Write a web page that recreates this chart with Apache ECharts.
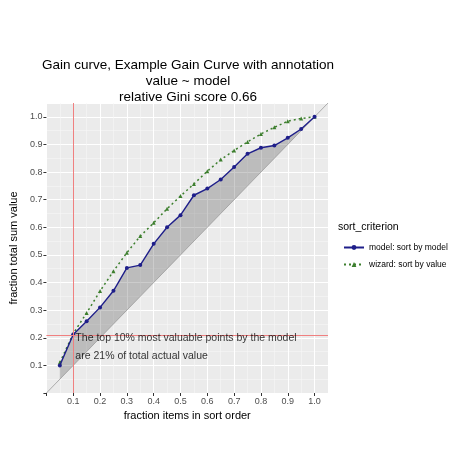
<!DOCTYPE html>
<html><head><meta charset="utf-8">
<script src="https://cdn.jsdelivr.net/npm/echarts@6/dist/echarts.min.js"></script>
<style>html,body{margin:0;padding:0;background:#fff}#c{width:474px;height:474px}</style>
</head><body><div id="c"></div>
<script>
var xs = [0.05,0.1,0.15,0.2,0.25,0.3,0.35,0.4,0.45,0.5,0.55,0.6,0.65,0.7,0.75,0.8,0.85,0.9,0.95,1.0];
var modelVals = [0.10,0.212,0.26,0.31,0.37,0.453,0.463,0.54,0.60,0.644,0.716,0.74,0.773,0.818,0.866,0.888,0.896,0.924,0.956,1.0];
var wizardVals = [0.11,0.215,0.29,0.369,0.441,0.508,0.568,0.616,0.667,0.713,0.757,0.803,0.845,0.878,0.909,0.938,0.962,0.984,0.994,1.0];
var annotX = 0.1, annotY = 0.212;
var F = 'Liberation Sans, Arial, sans-serif';
var chart = echarts.init(document.getElementById('c'));
var navy = '#1f1f8a', green = '#3d7f2e';
function fmt(v){return v>=0.05 ? v.toFixed(1) : '';}
function axis(name,gap){return {
  type:'value', min:0, max:1.05, interval:0.1, name:name, nameLocation:'middle', nameGap:gap,
  axisLine:{show:false}, axisTick:{show:true,length:3,lineStyle:{color:'#333'}},
  axisLabel:{color:'#4d4d4d',fontSize:9,fontFamily:F,margin:4,formatter:fmt,showMaxLabel:false},
  splitLine:{show:true,lineStyle:{color:'#fff',width:1}},
  minorTick:{show:false,splitNumber:2},
  minorSplitLine:{show:true,lineStyle:{color:'#f6f6f6',width:0.6}},
  nameTextStyle:{color:'#000',fontSize:11,fontFamily:F}
};}
function xy(a){return xs.map(function(x,i){return [x,a[i]];});}
chart.setOption({
  animation:false,
  title:{text:'Gain curve, Example Gain Curve with annotation\nvalue ~ model\nrelative Gini score 0.66',
    left:183, top:52, textAlign:'center',
    textStyle:{fontSize:13.5,fontWeight:'normal',color:'#000',fontFamily:F,lineHeight:16}},
  grid:{left:38,right:146,top:103,bottom:81,backgroundColor:'#ebebeb',show:true,borderWidth:0},
  xAxis:axis('fraction items in sort order',17),
  yAxis:axis('fraction total sum value',22),
  legend:{left:338,top:238,orient:'vertical',itemWidth:20,itemHeight:6,itemGap:8,
    textStyle:{fontSize:8.5,fontFamily:F,color:'#000'},data:['model: sort by model','wizard: sort by value']},
  graphic:[{type:'text',left:338,top:222,style:{text:'sort_criterion',fontSize:10.5,fontFamily:F,fill:'#000'}}],
  series:[
    {type:'custom',name:'ribbon',silent:true,z:1,data:[0],clip:true,
      renderItem:function(params,api){
        var pts=[];
        for(var i=0;i<xs.length;i++) pts.push(api.coord([xs[i],modelVals[i]]));
        for(var j=xs.length-1;j>=0;j--) pts.push(api.coord([xs[j],xs[j]]));
        return {type:'polygon',shape:{points:pts},style:{fill:'rgba(0,0,0,0.2)'}};
      }},
    {type:'line',name:'diag',data:[[0,0],[1.05,1.05]],symbol:'none',lineStyle:{color:'#9a9a9a',width:0.8},silent:true,z:2},
    {type:'line',name:'wizard: sort by value',data:xy(wizardVals),symbol:'triangle',symbolSize:4,
      itemStyle:{color:green},lineStyle:{color:green,type:[2,3],width:1.5},z:3},
    {type:'line',name:'model: sort by model',data:xy(modelVals),symbol:'circle',symbolSize:4,
      itemStyle:{color:navy},lineStyle:{color:navy,width:1.4},z:4,
      markLine:{silent:true,symbol:'none',label:{show:false},lineStyle:{color:'#f08080',type:'solid',width:1},
        data:[{xAxis:annotX},{yAxis:annotY}]}},
    {type:'scatter',data:[[annotX+0.008,annotY-0.045]],symbolSize:0,silent:true,z:5,
      label:{show:true,position:'right',distance:0,align:'left',verticalAlign:'middle',
        formatter:'The top 10% most valuable points by the model\nare 21% of total actual value',
        fontSize:10.5,lineHeight:18,fontFamily:F,color:'#000'}}
  ]
});
</script></body></html>
